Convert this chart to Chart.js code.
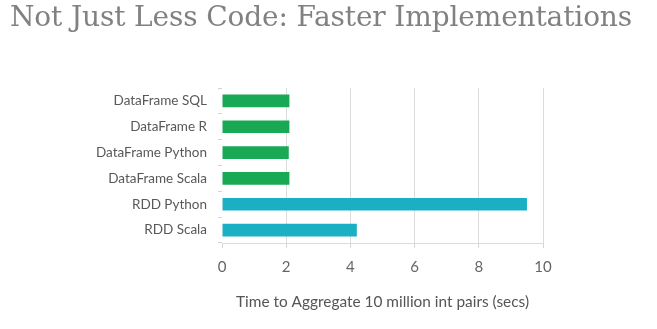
<!DOCTYPE html>
<html>
<head>
<meta charset="utf-8">
<script src="https://cdn.jsdelivr.net/npm/chart.js@4/dist/chart.umd.min.js"></script>
<style>
  html, body { margin: 0; padding: 0; background: #fff; }
  #wrap { position: relative; width: 657px; height: 329px; }
  #heading {
    position: absolute; left: 10px; top: 3px; margin: 0;
    font: normal 28px/28px 'DejaVu Serif', serif;
    color: #818181; white-space: nowrap;
  }
</style>
</head>
<body>
<div id="wrap">
  <canvas id="aggChart"></canvas>
  <h1 id="heading">Not Just Less Code: Faster Implementations</h1>
</div>
<script>
// Aggregation benchmark: DataFrame vs RDD implementations
const categories = ['DataFrame SQL', 'DataFrame R', 'DataFrame Python', 'DataFrame Scala', 'RDD Python', 'RDD Scala'];
const seconds = [2.1, 2.1, 2.08, 2.1, 9.5, 4.2];
const barColors = ['#19a955', '#19a955', '#19a955', '#19a955', '#1aafc3', '#1aafc3'];
const xTicks = [0, 2, 4, 6, 8, 10];

// squeeze the heading so it spans the same width as the chart block
const heading = document.getElementById('heading');
const headingWidth = 622;
const natural = heading.getBoundingClientRect().width;
heading.style.letterSpacing = ((headingWidth - natural) / heading.textContent.length) + 'px';

const ctx = document.getElementById('aggChart').getContext('2d');

new Chart(ctx, {
    type: 'bar',
    data: {
        labels: categories,
        datasets: [{
            data: seconds,
            backgroundColor: barColors,
            borderWidth: 0,
            categoryPercentage: 1,
            barPercentage: 0.49
        }]
    },
    options: {
        indexAxis: 'y',
        responsive: true,
        maintainAspectRatio: false,
        animation: false,
        layout: { padding: { left: 0, right: 114, top: 88, bottom: 0 } },
        plugins: {
            legend: { display: false },
            tooltip: { enabled: false }
        },
        scales: {
            x: {
                min: 0,
                max: 10,
                afterBuildTicks: (scale) => { scale.ticks = xTicks.map(v => ({ value: v })); },
                afterFit: (scale) => { scale.height = 86; },
                grid: {
                    color: (c) => (c.tick && c.tick.value === 0) ? 'rgba(0,0,0,0)' : '#dcdcdc',
                    tickColor: '#d4d4d4',
                    tickLength: 5,
                    lineWidth: 1
                },
                border: { display: true, color: '#dcdcdc' },
                ticks: {
                    color: '#666',
                    padding: 10,
                    font: { family: 'Lato', size: 15 }
                },
                title: {
                    display: true,
                    text: 'Time to Aggregate 10 million int pairs (secs)',
                    color: '#555',
                    font: { family: 'Lato', size: 15.4, lineHeight: 1.2 },
                    padding: { top: 0, bottom: 18 }
                }
            },
            y: {
                afterFit: (scale) => { scale.width = 222; },
                grid: {
                    drawOnChartArea: false,
                    drawTicks: true,
                    tickLength: 4,
                    tickColor: '#d4d4d4'
                },
                border: { display: false },
                ticks: {
                    color: '#585858',
                    padding: 11,
                    font: { family: 'Lato', size: 13.5 }
                }
            }
        }
    }
});
</script>
</body>
</html>
